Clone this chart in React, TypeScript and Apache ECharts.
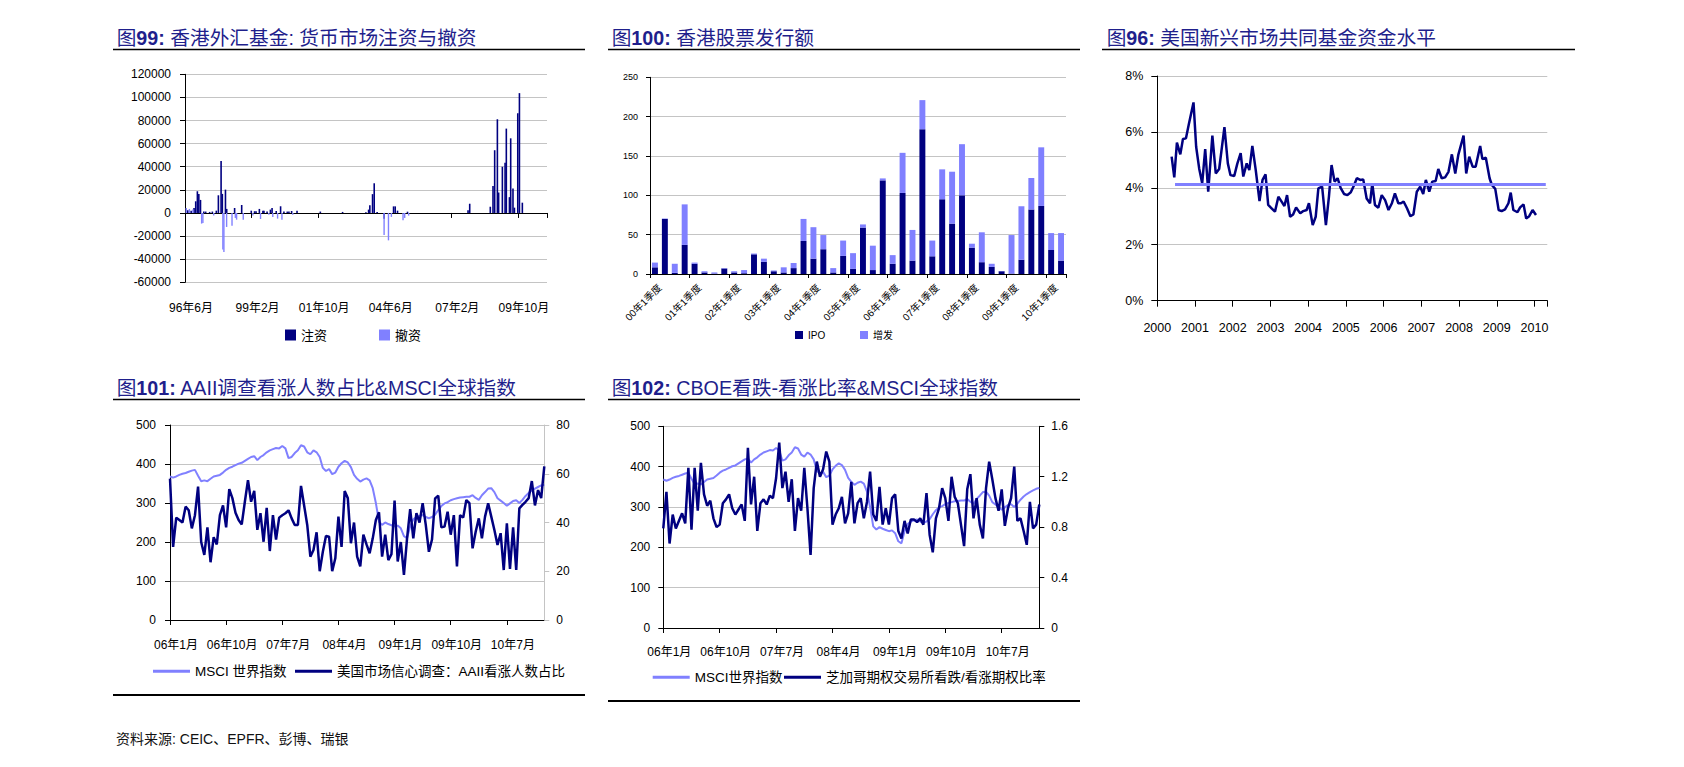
import React, { useEffect, useRef } from 'react';
import * as echarts from 'echarts';

const FONT = '"Liberation Sans", Arial, "Noto Sans CJK SC", sans-serif';
const NAVY = '#000080';
const LIGHT = '#8080ff';
const TITLE_BLUE = '#1f1f8c';
const GRID = '#c4c4c4';

// ---------- Panel 1: 香港外汇基金 货币市场注资与撤资 (month offset from 1996-06) ----------
const p1InjMonths = [1.3, 2.9, 4.3, 5.1, 5.9, 6.6, 7.4, 9.0, 9.9, 11.8, 13.1, 15.0, 16.0, 17.3, 17.9, 19.4, 20.0, 23.8, 27.2, 31.8, 33.4, 34.1, 35.7, 37.4, 37.9, 39.4, 41.0, 41.8, 43.8, 45.9, 47.5, 49.1, 49.9, 51.2, 53.8, 65.0, 75.7, 86.9, 88.2, 88.8, 90.1, 90.9, 92.3, 95.7, 100.2, 101.0, 102.1, 106.9, 136.0, 136.8, 146.7, 148.0, 148.8, 150.1, 150.7, 152.5, 153.8, 154.4, 155.9, 156.5, 157.6, 158.3, 159.9, 160.7, 162.1];
const p1InjValues = [2300, 2000, 4300, 10100, 18800, 16500, 11300, 1200, 1200, 900, 1200, 2000, 15300, 45000, 16500, 20200, 3500, 4300, 6900, 2000, 1500, 1500, 3500, 2000, 2000, 1200, 2900, 4300, 1700, 5800, 1200, 1200, 1200, 1700, 2000, 1200, 900, 600, 2900, 6600, 16300, 25700, 900, -5100, 5700, 5700, 2000, 1100, 2300, 8000, 5400, 23400, 54300, 81100, 17700, 40000, 43400, 73000, 13700, 64600, 21100, 4600, 86300, 103700, 8900];
const p1WdrMonths = [0.6, 2.1, 3.8, 8.0, 8.6, 13.8, 18.2, 18.7, 20.0, 22.6, 24.2, 24.8, 28.0, 32.6, 36.3, 40.3, 42.2, 44.5, 46.6, 51.8, 95.7, 97.8, 99.2, 104.8, 105.6, 107.5];
const p1WdrValues = [4300, 3500, 2900, -9200, -8700, -2300, -31700, -33800, -12100, -11000, -4300, -5800, -5800, -2300, -5200, -1500, -3500, -4900, -5800, -1500, -19100, -23700, -3400, -6300, -4300, -2300];

// ---------- Panel 2: 香港股票发行额 (quarterly, 00Q1 - 10Q2) ----------
const p2IPO = [8.5, 70, 1.5, 37, 13, 2, 0.5, 7, 2, 1, 25, 15.5, 3.5, 2, 7.5, 42, 19.5, 31.5, 2, 23, 6.5, 59, 5, 119, 13, 103, 17, 184, 22.5, 95, 64, 100, 33.5, 15, 9, 3.5, 0.5, 18, 82, 86.5, 30.5, 17];
const p2Add = [6, 0.5, 11.5, 51.5, 1.5, 1.5, 1.5, 0.5, 1.5, 4, 1, 4, 1, 6.5, 6.5, 28, 40, 18, 5.5, 19.5, 20, 4, 31, 2.5, 11, 51, 39, 37, 20, 38, 66, 65, 5, 38, 4, 0.3, 49, 68, 40, 74.5, 21.5, 35];
const p2Cats = p2IPO.map((_, i) => `${String(Math.floor(i / 4)).padStart(2, '0')}年${(i % 4) + 1}季度`);
const p2LabelCats = ['', ...p2Cats];

// ---------- Panel 3: 美国新兴市场共同基金资金水平 ----------
const p3Dates = [2000.38, 2000.45, 2000.52, 2000.61, 2000.68, 2000.76, 2000.84, 2000.96, 2001.03, 2001.11, 2001.19, 2001.27, 2001.35, 2001.46, 2001.55, 2001.64, 2001.78, 2001.87, 2001.94, 2002.04, 2002.12, 2002.21, 2002.28, 2002.37, 2002.44, 2002.52, 2002.61, 2002.71, 2002.79, 2002.87, 2002.94, 2003.03, 2003.12, 2003.21, 2003.30, 2003.37, 2003.44, 2003.52, 2003.60, 2003.68, 2003.79, 2003.87, 2003.96, 2004.02, 2004.12, 2004.20, 2004.27, 2004.37, 2004.47, 2004.55, 2004.62, 2004.70, 2004.78, 2004.86, 2004.95, 2005.04, 2005.13, 2005.22, 2005.29, 2005.38, 2005.46, 2005.55, 2005.64, 2005.70, 2005.77, 2005.86, 2005.95, 2006.04, 2006.13, 2006.22, 2006.30, 2006.39, 2006.46, 2006.53, 2006.62, 2006.71, 2006.79, 2006.88, 2006.97, 2007.05, 2007.12, 2007.21, 2007.29, 2007.38, 2007.45, 2007.54, 2007.63, 2007.72, 2007.81, 2007.90, 2007.98, 2008.12, 2008.19, 2008.27, 2008.36, 2008.44, 2008.56, 2008.62, 2008.71, 2008.81, 2008.87, 2008.96, 2009.05, 2009.13, 2009.22, 2009.31, 2009.37, 2009.44, 2009.55, 2009.62, 2009.71, 2009.78, 2009.86, 2009.95, 2010.04];
const p3Values = [5.13, 4.39, 5.63, 5.21, 5.76, 5.78, 6.31, 7.06, 5.48, 4.71, 4.18, 5.40, 3.88, 5.88, 4.53, 4.69, 6.18, 4.89, 4.47, 4.44, 4.87, 5.25, 4.42, 4.89, 4.65, 5.51, 4.65, 3.55, 4.30, 4.50, 3.41, 3.29, 3.17, 3.70, 3.52, 3.37, 3.76, 2.99, 3.07, 3.32, 3.11, 3.19, 3.23, 3.47, 2.69, 2.99, 4.00, 4.06, 2.69, 3.70, 4.83, 4.24, 4.36, 4.02, 3.80, 3.76, 3.86, 4.12, 4.36, 4.30, 4.32, 3.64, 3.47, 4.18, 3.41, 3.31, 3.76, 3.58, 3.23, 3.47, 3.82, 3.47, 3.47, 3.53, 3.29, 3.01, 3.07, 3.88, 4.06, 3.80, 4.30, 3.88, 4.24, 4.26, 4.69, 4.36, 4.39, 4.59, 5.21, 4.53, 5.19, 5.88, 4.53, 5.13, 4.77, 4.77, 5.51, 5.04, 5.09, 4.36, 4.12, 3.98, 3.23, 3.19, 3.25, 3.47, 3.85, 3.23, 3.15, 3.32, 3.43, 2.93, 3.01, 3.23, 3.05];
const p3Avg = 4.15;
const p3AvgFrom = 2000.47;
const p3AvgTo = 2010.3;
const p3Years = [2000, 2010.34];

// ---------- Panels 4 & 5 (half-month steps from 2006-01) ----------
const msciWorld = [368, 365, 368, 372, 375, 377, 380, 383, 385, 370,
  356, 358, 356, 362, 368, 370, 372, 378, 385, 390,
  393, 397, 401, 403, 408, 413, 418, 420, 410, 418,
  423, 430, 435, 438, 441, 440, 446, 440, 415, 418,
  428, 435, 448, 445, 430, 425, 435, 430, 418, 390,
  382, 387, 374, 378, 393, 402, 408, 404, 392, 372,
  362, 355, 360, 363, 358, 338, 300, 252, 244, 250,
  246, 243, 240, 242, 235, 215, 210, 240, 258, 264,
  267, 269, 264, 261, 264, 270, 282, 292, 299, 302,
  307, 310, 312, 314, 315, 316, 316, 320, 313, 308,
  320, 328, 337, 338, 328, 312, 306, 300, 293, 299,
  305, 307, 300, 308, 318, 326, 332, 337, 341, 345,
  347];
const aaiiBull = [58, 30, 42, 41, 40, 46.5, 45, 37.6, 43, 54.7,
  32, 26.7, 38, 23.7, 34, 31, 43, 47, 38, 53.7,
  50, 44, 41, 39.2, 48.5, 57.4, 48.5, 53, 37, 43.8,
  32.1, 46, 28.3, 43, 33, 42, 43, 43.8, 45, 41.7,
  39, 39, 55, 47, 39, 26, 28.7, 36, 20, 28,
  34.5, 34.2, 20, 25.3, 42.4, 30, 52.9, 50, 31.5, 40,
  26, 22, 35, 31, 27.4, 33.5, 41, 44.2, 26, 35,
  24.6, 27, 49, 24, 32, 18.5, 33.5, 45.5, 33.5, 43.8,
  40, 47.9, 39, 28, 33, 49.9, 51, 38, 38.3, 44.4,
  35, 43, 22, 43, 42, 49.2, 47.9, 29.4, 36.2, 41.7,
  33.5, 42.4, 47.9, 42.4, 36.9, 30.8, 35.6, 20.5, 39.7, 21,
  38, 20.5, 45.8, 47.2, 48.5, 50, 57, 47, 53.3, 50,
  63];
const cboePutCall = [0.79, 1.08, 0.67, 0.90, 0.79, 0.85, 0.91, 0.83, 1.27, 0.78,
  1.27, 0.93, 1.31, 1.06, 0.97, 1.01, 0.87, 0.80, 0.82, 0.99,
  1.02, 1.06, 0.95, 0.90, 0.94, 0.98, 0.85, 1.43, 0.98, 1.20,
  0.77, 0.99, 1.02, 0.98, 1.05, 1.03, 1.19, 1.47, 1.11, 1.24,
  1.00, 1.18, 0.77, 1.03, 0.93, 1.27, 0.95, 0.58, 1.11, 1.32,
  1.20, 1.26, 1.40, 1.32, 0.82, 0.90, 0.95, 1.04, 0.83, 0.91,
  1.16, 0.83, 0.99, 1.03, 0.87, 1.00, 1.24, 0.90, 0.85, 1.12,
  0.82, 0.95, 0.82, 1.03, 1.06, 0.77, 0.71, 0.85, 0.75, 0.86,
  0.86, 0.84, 0.87, 0.82, 1.07, 0.74, 0.60, 0.87, 0.95, 1.11,
  1.03, 0.85, 1.20, 1.04, 0.99, 0.82, 0.65, 1.10, 1.22, 0.87,
  1.03, 0.82, 0.71, 1.11, 1.32, 1.18, 1.03, 0.93, 1.10, 0.81,
  0.95, 1.03, 1.28, 0.85, 0.87, 0.77, 0.66, 1.00, 0.79, 0.82,
  0.98];
const halfMonthCats = msciWorld.map((_, i) => {
  const t = 2006 * 12 + Math.floor(i / 2);
  const y = Math.floor(t / 12);
  const m = (t % 12) + 1;
  return `${String(y % 100).padStart(2, '0')}年${m}月${i % 2 ? '下' : ''}`;
});

const p1MonthLabel = (off: number) => {
  const t = 1996 * 12 + 5 + off;
  const y = Math.floor(t / 12);
  const m = (t % 12) + 1;
  return `${String(y % 100).padStart(2, '0')}年${m}月`;
};

const black = { show: true, lineStyle: { color: '#000', width: 1 } };
const lbl = (size: number, margin: number, extra: any = {}) => ({
  fontSize: size, fontFamily: FONT, color: '#000', margin, ...extra,
});
const split = { show: true, lineStyle: { color: GRID, width: 1 } };

function buildOption() {
  const titleText = (x: number, y: number, num: string, rest: string) => ({
    type: 'text',
    x, y,
    style: {
      text: `{a|图}{b|${num}}{a|${rest}}`,
      verticalAlign: 'middle',
      fill: TITLE_BLUE,
      rich: {
        a: { fontSize: 19.7, fontFamily: FONT, fill: TITLE_BLUE, fontWeight: 'normal' },
        b: { fontSize: 19.7, fontFamily: FONT, fill: TITLE_BLUE, fontWeight: 'bold' },
      },
    },
  });
  const hline = (x1: number, x2: number, y: number, w: number) => ({
    type: 'line',
    shape: { x1, y1: y, x2, y2: y },
    style: { stroke: '#000', lineWidth: w },
  });
  const legendBase = {
    padding: 0,
    icon: 'rect',
    textStyle: { fontSize: 13, fontFamily: FONT, color: '#000' },
    selectedMode: false,
  };
  const lineLegend = { ...legendBase, itemWidth: 37, itemHeight: 3, textStyle: { fontSize: 13.5, fontFamily: FONT, color: '#000' } };
  const pick18 = (i: number) => i % 18 === 0;

  return {
    animation: false,
    backgroundColor: '#fff',
    grid: [
      { left: 185, top: 74.3, width: 362, height: 208 },
      { left: 650, top: 77.3, width: 416, height: 196.7 },
      { left: 1157.3, top: 76, width: 390, height: 224.7 },
      { left: 170, top: 425, width: 374.3, height: 195 },
      { left: 663.3, top: 426.3, width: 376, height: 201.7 },
    ],
    xAxis: [
      {
        gridIndex: 0, type: 'value', min: 0, max: 174, interval: 32, position: 'bottom',
        axisLine: { ...black, onZero: true },
        axisTick: { show: true, length: 5, lineStyle: { color: '#000' } },
        axisLabel: { show: false }, splitLine: { show: false },
      },
      {
        gridIndex: 0, type: 'value', min: 0, max: 174, interval: 32, position: 'bottom',
        axisLine: { show: false, onZero: false }, axisTick: { show: false },
        axisLabel: lbl(12, 20, { padding: [0, 0, 0, 12], formatter: (v: number) => (v % 32 === 0 ? p1MonthLabel(v) : '') }),
        splitLine: { show: false },
      },
      {
        gridIndex: 1, type: 'category', data: p2Cats,
        axisLine: black,
        axisTick: { show: true, interval: 3, length: 4, lineStyle: { color: '#000' } },
        axisLabel: { show: false },
      },
      {
        gridIndex: 2, type: 'value', min: p3Years[0], max: p3Years[1], interval: 1,
        axisLine: black,
        axisTick: { show: true, length: 6, lineStyle: { color: '#000' } },
        axisLabel: lbl(12.5, 21, { formatter: (v: number) => (Number.isInteger(v) ? String(v) : '') }),
        splitLine: { show: false },
      },
      {
        gridIndex: 3, type: 'category', data: halfMonthCats, boundaryGap: false,
        axisLine: black,
        axisTick: { show: true, interval: pick18, length: 5, lineStyle: { color: '#000' } },
        axisLabel: lbl(12, 19, { interval: pick18, padding: [0, 0, 0, 12] }),
      },
      {
        gridIndex: 4, type: 'category', data: halfMonthCats, boundaryGap: false,
        axisLine: black,
        axisTick: { show: true, interval: pick18, length: 5, lineStyle: { color: '#000' } },
        axisLabel: lbl(12, 18, { interval: pick18, padding: [0, 0, 0, 12] }),
      },
      {
        gridIndex: 1, type: 'category', data: p2LabelCats, boundaryGap: false, position: 'bottom',
        axisLine: { show: false, onZero: false }, axisTick: { show: false },
        axisLabel: lbl(10, 12, { interval: (i: number) => i % 4 === 1, rotate: 45 }),
      },
    ],
    yAxis: [
      {
        gridIndex: 0, type: 'value', min: -60000, max: 120000, interval: 20000,
        axisLine: { ...black, onZero: false },
        axisTick: { show: true, length: 5, lineStyle: { color: '#000' } },
        axisLabel: lbl(12, 14, { formatter: (v: number) => String(v) }),
        splitLine: split,
      },
      {
        gridIndex: 1, type: 'value', min: 0, max: 250, interval: 50,
        axisLine: black,
        axisTick: { show: true, length: 4, lineStyle: { color: '#000' } },
        axisLabel: lbl(9, 12, { formatter: (v: number) => String(v) }),
        splitLine: split,
      },
      {
        gridIndex: 2, type: 'value', min: 0, max: 8, interval: 2,
        axisLine: black,
        axisTick: { show: true, length: 6, lineStyle: { color: '#000' } },
        axisLabel: lbl(12.5, 14, { formatter: (v: number) => `${v}%` }),
        splitLine: split,
      },
      {
        gridIndex: 3, type: 'value', min: 0, max: 500, interval: 100,
        axisLine: black,
        axisTick: { show: true, length: 5, lineStyle: { color: '#000' } },
        axisLabel: lbl(12, 14, { formatter: (v: number) => String(v) }),
        splitLine: split,
      },
      {
        gridIndex: 3, type: 'value', min: 0, max: 80, interval: 20, position: 'right',
        axisLine: { show: true, lineStyle: { color: GRID, width: 1 } },
        axisTick: { show: true, length: 5, lineStyle: { color: GRID } },
        axisLabel: lbl(12, 12, { formatter: (v: number) => String(v) }),
        splitLine: { show: false },
      },
      {
        gridIndex: 4, type: 'value', min: 0, max: 500, interval: 100,
        axisLine: black,
        axisTick: { show: true, length: 5, lineStyle: { color: '#000' } },
        axisLabel: lbl(12, 13, { formatter: (v: number) => String(v) }),
        splitLine: split,
      },
      {
        gridIndex: 4, type: 'value', min: 0, max: 1.6, interval: 0.4, position: 'right',
        axisLine: black,
        axisTick: { show: true, length: 5, lineStyle: { color: '#000' } },
        axisLabel: lbl(12, 12, { formatter: (v: number) => (v === 0 ? '0' : v.toFixed(1)) }),
        splitLine: { show: false },
      },
    ],
    legend: [
      { ...legendBase, data: ['注资'], left: 285, top: 328.5, itemWidth: 11, itemHeight: 11 },
      { ...legendBase, data: ['撤资'], left: 379, top: 328.5, itemWidth: 11, itemHeight: 11 },
      { ...legendBase, data: ['IPO'], left: 795, top: 330, itemWidth: 8, itemHeight: 8, textStyle: { fontSize: 10, fontFamily: FONT, color: '#000' } },
      { ...legendBase, data: ['增发'], left: 860, top: 330, itemWidth: 8, itemHeight: 8, textStyle: { fontSize: 10, fontFamily: FONT, color: '#000' } },
      { ...lineLegend, data: ['MSCI 世界指数'], left: 153, top: 664.5 },
      { ...lineLegend, data: ['美国市场信心调查：AAII看涨人数占比'], left: 295, top: 664.5 },
      { ...lineLegend, data: ['MSCI世界指数'], left: 652.7, top: 670.5 },
      { ...lineLegend, data: ['芝加哥期权交易所看跌/看涨期权比率'], left: 784, top: 670.5 },
    ],
    series: [
      {
        name: '注资', type: 'bar', xAxisIndex: 0, yAxisIndex: 0, barWidth: 1.6, barGap: '-100%',
        itemStyle: { color: NAVY },
        data: p1InjMonths.map((m, i) => [m, p1InjValues[i]]),
      },
      {
        name: '撤资', type: 'bar', xAxisIndex: 0, yAxisIndex: 0, barWidth: 1.4, barGap: '-100%',
        itemStyle: { color: LIGHT },
        data: p1WdrMonths.map((m, i) => [m, p1WdrValues[i]]),
      },
      {
        name: 'IPO', type: 'bar', xAxisIndex: 2, yAxisIndex: 1, stack: 'p2', barWidth: '60%',
        itemStyle: { color: NAVY }, data: p2IPO,
      },
      {
        name: '增发', type: 'bar', xAxisIndex: 2, yAxisIndex: 1, stack: 'p2', barWidth: '60%',
        itemStyle: { color: LIGHT }, data: p2Add,
      },
      {
        name: 'p3', type: 'line', xAxisIndex: 3, yAxisIndex: 2, symbol: 'none',
        lineStyle: { color: NAVY, width: 2.5 },
        data: p3Dates.map((d, i) => [d, p3Values[i]]),
        markLine: {
          silent: true, symbol: 'none', label: { show: false },
          lineStyle: { color: LIGHT, width: 3, type: 'solid' },
          data: [[{ coord: [p3AvgFrom, p3Avg] }, { coord: [p3AvgTo, p3Avg] }]],
        },
        z: 3,
      },
      {
        name: 'MSCI 世界指数', type: 'line', xAxisIndex: 4, yAxisIndex: 3, symbol: 'none',
        itemStyle: { color: LIGHT }, lineStyle: { color: LIGHT, width: 2 }, data: msciWorld,
      },
      {
        name: '美国市场信心调查：AAII看涨人数占比', type: 'line', xAxisIndex: 4, yAxisIndex: 4, symbol: 'none',
        itemStyle: { color: NAVY }, lineStyle: { color: NAVY, width: 2.5 }, data: aaiiBull,
      },
      {
        name: 'MSCI世界指数', type: 'line', xAxisIndex: 5, yAxisIndex: 5, symbol: 'none',
        itemStyle: { color: LIGHT }, lineStyle: { color: LIGHT, width: 2 }, data: msciWorld,
      },
      {
        name: '芝加哥期权交易所看跌/看涨期权比率', type: 'line', xAxisIndex: 5, yAxisIndex: 6, symbol: 'none',
        itemStyle: { color: NAVY }, lineStyle: { color: NAVY, width: 2.5 }, data: cboePutCall,
      },
    ],
    graphic: [
      titleText(116.7, 37.5, '99:', ' 香港外汇基金: 货币市场注资与撤资'),
      titleText(611.7, 37.5, '100:', ' 香港股票发行额'),
      titleText(1106.7, 37.5, '96:', ' 美国新兴市场共同基金资金水平'),
      titleText(116.7, 387.5, '101:', ' AAII调查看涨人数占比&MSCI全球指数'),
      titleText(611.7, 387.5, '102:', ' CBOE看跌-看涨比率&MSCI全球指数'),
      hline(113, 585, 49.5, 1.5),
      hline(608, 1080, 49.5, 1.5),
      hline(1102, 1575, 49.5, 1.5),
      hline(113, 585, 399.5, 1.5),
      hline(608, 1080, 399.5, 1.5),
      hline(113, 585, 695, 2),
      hline(608, 1080, 701, 2),
      {
        type: 'text', x: 116, y: 738.5,
        style: { text: '资料来源: CEIC、EPFR、彭博、瑞银', fontSize: 14, fontFamily: FONT, fill: '#111', verticalAlign: 'middle' },
      },
    ],
  };
}

export default function App() {
  const ref = useRef<HTMLDivElement>(null);
  useEffect(() => {
    if (!ref.current) return;
    const chart = echarts.init(ref.current, undefined, { renderer: 'svg' });
    chart.setOption(buildOption() as any);
    return () => chart.dispose();
  }, []);
  return (
    <div
      ref={ref}
      style={{ position: 'absolute', left: 0, top: 0, width: 1684, height: 767, background: '#fff' }}
    />
  );
}
